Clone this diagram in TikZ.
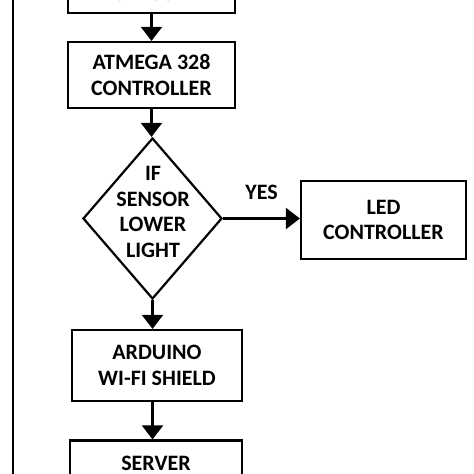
\documentclass[tikz,border=0pt]{standalone}
\usepackage{fontspec}
\setmainfont{Carlito}
\usetikzlibrary{arrows.meta,shapes.geometric,positioning}

\begin{document}
\begin{tikzpicture}[x=1pt,y=-1pt]
    \tikzstyle{box}=[rectangle, draw=black, line width=2.2pt, align=center, font=\fontsize{22}{25.5}\selectfont\bfseries]
    \tikzstyle{decision}=[diamond, draw=black, line width=2.2pt, inner sep=0pt, minimum width=139pt, minimum height=161pt]
    \tikzstyle{label}=[align=center, font=\fontsize{22}{25.5}\selectfont\bfseries]
    \tikzstyle{connect}=[-{Triangle[width=21pt,length=14pt]}, line width=2.2pt]
    \useasboundingbox (0,0) rectangle (474,474);
    \clip (0,0) rectangle (474,474);
      % boxes
      \node[box, minimum width=167pt, text height=45pt, text depth=8.5pt, inner ysep=4pt, anchor=base] (sensor) at (151.5,0.5) {SENSOR};
      \node[box, minimum width=167pt, minimum height=66pt] (atmega) at (151.5,75) {ATMEGA 328\\CONTROLLER};
      \node[decision] (check) at (152.5,218.5) {};
      \node[label] (checktext) at (153,212) {IF\\SENSOR\\LOWER\\LIGHT};
      \node[box, minimum width=165pt, minimum height=78pt] (led) at (383.5,220) {LED\\CONTROLLER};
      \node[box, minimum width=172pt, text height=25.5pt, text depth=40pt, inner ysep=4pt, anchor=base] (server) at (156,470) {SERVER};
      \node[box, minimum width=170pt, minimum height=71pt] (wifi) at (157,365.5) {ARDUINO\\WI-FI SHIELD};
      % feedback line
      \coordinate (looptop) at (13,-10);
      \coordinate (loopbot) at (13,490);
      \draw[line width=2.2pt] (looptop) -- (loopbot);
      % flow
      \draw[connect] (sensor) -- (atmega);
      \draw[connect] (atmega.south) -- (atmega.south |- check.north);
      \draw[connect] (check.east) -- node[label, above=14pt] {YES} (check.east -| led.west);
      \draw[connect] (check.south) -- (check.south |- wifi.north);
      \draw[connect] (wifi.south -| check.south) -- (check.south |- server.north);
\end{tikzpicture}
\end{document}
